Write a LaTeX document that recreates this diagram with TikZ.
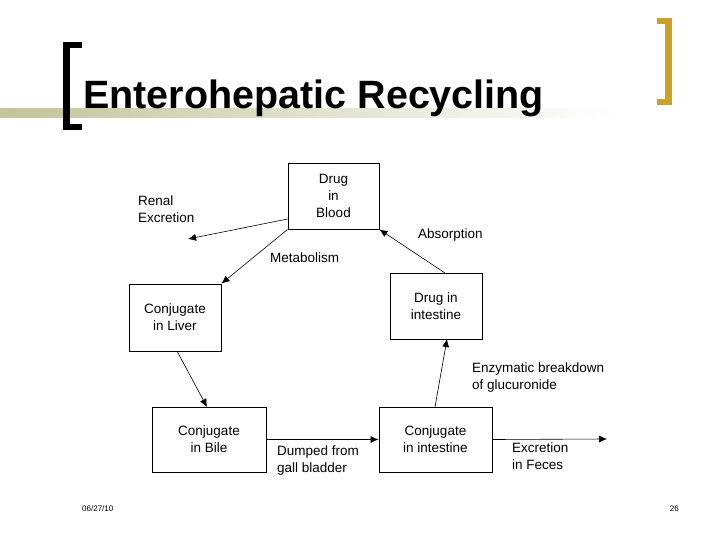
\documentclass[tikz,border=0pt]{standalone}
\usepackage{fontspec}
\setmainfont{Liberation Sans}
\usetikzlibrary{arrows.meta}
\definecolor{gold}{HTML}{C9A227}
\definecolor{barc}{HTML}{C4C39A}
\begin{document}
\begin{tikzpicture}[x=1pt,y=-1pt,
 box/.style={draw,line width=1pt,align=center,font=\fontsize{13.5}{17}\selectfont,inner sep=0pt},
 lbl/.style={align=left,font=\fontsize{13.5}{17}\selectfont,anchor=north west,inner sep=0pt},
 arr/.style={-{Latex[length=8pt,width=7pt]},line width=0.6pt}]
\useasboundingbox (0,0) rectangle (728,546);
\shade[left color=barc,right color=white] (0,108) rectangle (620,117);
\fill (63,42) rectangle (70,130);
\fill (63,42) rectangle (82,48);
\fill (63,124) rectangle (82,130);
\fill[gold] (665,18) rectangle (672,105);
\fill[gold] (657,18) rectangle (672,24);
\fill[gold] (657,99) rectangle (672,105);
\node[anchor=base west,inner sep=0pt,font=\fontsize{39.5}{44}\selectfont\bfseries] (title) at (83,108) {Enterohepatic Recycling};
\node[box,minimum width=91pt,minimum height=66pt] (blood) at (333.5,196) {Drug\\in\\Blood};
\node[box,minimum width=92pt,minimum height=67pt] (liver) at (175,317.5) {Conjugate\\in Liver};
\node[box,minimum width=114pt,minimum height=65pt] (bile) at (209,439.5) {Conjugate\\in Bile};
\node[box,minimum width=113pt,minimum height=65pt] (conj) at (435.5,439.5) {Conjugate\\in intestine};
\node[box,minimum width=92pt,minimum height=66pt] (dint) at (436,306) {Drug in\\intestine};
\coordinate (renal) at (188,239);
\coordinate (feces) at (607,439);
\draw[arr] (blood.west|-0,219) -- (renal);
\draw[arr] (blood.south west) -- (liver.north east);
\draw[arr] (177,351) -- (207,407);
\draw[arr] (bile.east) -- (conj.west);
\draw[arr] (435,407) -- (447,339);
\draw[arr] (445,273) -- (blood.south east);
\draw[arr] (conj.east) -- (feces);
\node[lbl] (l1) at (138,196) {Renal\\Excretion};
\node[lbl] (l2) at (270,253) {Metabolism};
\node[lbl] (l3) at (418,229) {Absorption};
\node[lbl] (l4) at (472,363) {Enzymatic breakdown\\of glucuronide};
\node[lbl] (l5) at (277,446) {Dumped from\\gall bladder};
\node[lbl] (l6) at (512,443) {Excretion\\in Feces};
\node[anchor=base west,inner sep=0pt,font=\fontsize{8}{9}\selectfont] (date) at (82,511) {06/27/10};
\node[anchor=base east,inner sep=0pt,font=\fontsize{8}{9}\selectfont] (pg) at (679,511) {26};
\end{tikzpicture}
\end{document}
